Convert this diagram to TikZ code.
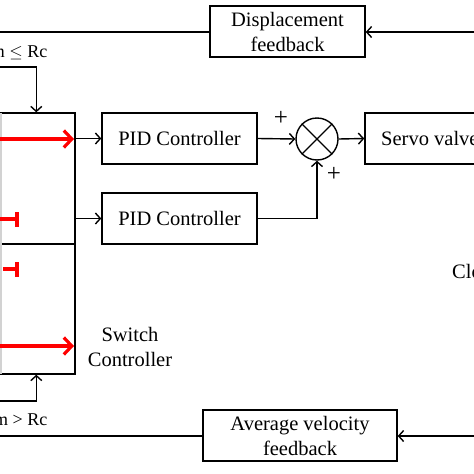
\documentclass[tikz,border=0pt]{standalone}
\usepackage{fontspec}
\setmainfont{Liberation Serif}
\usetikzlibrary{arrows.meta}
\newcommand\myfs{\fontsize{20.5}{25}\selectfont}
\newcommand\mylab{\fontsize{18}{22}\selectfont}
\newcommand\myplus{\fontsize{25}{25}\selectfont}
\tikzset{
  blk/.style={draw, line width=1.4pt, inner sep=0pt, align=center, font=\myfs},
  arr/.style={line width=1.4pt, -{Straight Barb[length=5pt,width=11pt]}},
  ln/.style={line width=1.4pt},
  redarr/.style={draw=red, line width=3.2pt, -{Straight Barb[length=8pt,width=17pt]}},
  redt/.style={draw=red, line width=3.2pt},
}
\begin{document}
\begin{tikzpicture}[x=1pt,y=-1pt]
\useasboundingbox (0,0) rectangle (474,474);
\clip (0,0) rectangle (474,474);
\fill[white] (0,0) rectangle (474,474);
% switch block
\node[blk, minimum width=85pt, minimum height=261pt] (sw) at (32.5,243.5) {};
\draw[ln] (sw.west |- 0,244) -- (sw.east |- 0,244);
\draw[gray!35, line width=2pt] (1,113) -- (1,374);
% red switches
\draw[redarr] (0,139) -- (74,139);
\draw[redt] (0,219) -- (17,219);
\draw[redt] (17,212) -- (17,226.5);
\draw[redt] (3,269) -- (17,269);
\draw[redt] (17,262) -- (17,276.5);
\draw[redarr] (0,346) -- (74,346);
% blocks
\node[blk, minimum width=155pt, minimum height=51pt] (pid1) at (179.5,138.5) {PID Controller};
\node[blk, minimum width=155pt, minimum height=51pt] (pid2) at (179.5,218.5) {PID Controller};
\node[draw, circle, line width=1.4pt, minimum size=42pt, inner sep=0pt] (sum) at (317,139) {};
\draw[ln] (sum.north west) -- (sum.south east);
\draw[ln] (sum.north east) -- (sum.south west);
\node[blk, minimum width=140pt, minimum height=51pt] (servo) at (435,138.5) {};
\node[font=\myfs, anchor=west, inner sep=0pt] (servot) at (381,138.5) {Servo valve};
\node[blk, minimum width=155pt, minimum height=51pt] (disp) at (287.5,31.5) {Displacement\\feedback};
\node[blk, minimum width=194pt, minimum height=51pt] (avg) at (300,435.5) {Average velocity\\feedback};
% labels
\node[font=\mylab, anchor=base east, inner sep=0pt] (l1) at (47.5,57) {Rm $\leq$ Rc};
\node[font=\mylab, anchor=base east, inner sep=0pt] (l2) at (47.5,425) {Rm > Rc};
\node[font=\myfs, align=center] (swt) at (130,347) {Switch\\Controller};
\node[font=\myfs, anchor=base west, inner sep=0pt] (cl) at (452,278) {Closed loop};
\node[font=\myplus, inner sep=0pt] (p1) at (281,118) {+};
\node[font=\myplus, inner sep=0pt] (p2) at (334,174) {+};
% coordinates
\coordinate (tin) at (0,67);
\coordinate (bin) at (0,401);
\coordinate (tfr) at (474,32);
\coordinate (tfl) at (0,32);
\coordinate (bfr) at (474,436);
\coordinate (bfl) at (0,436);
% connectors
\draw[arr] (tfr) -- (disp.east |- tfr);
\draw[ln] (disp.west |- tfl) -- (tfl);
\draw[arr] (bfr) -- (avg.east |- bfr);
\draw[ln] (avg.west |- bfl) -- (bfl);
\draw[arr] (tin) -| ([xshift=47pt]sw.north west);
\draw[arr] (bin) -| ([xshift=47pt]sw.south west);
\draw[arr] (sw.east |- pid1.west) -- (pid1.west);
\draw[arr] (sw.east |- pid2.west) -- (pid2.west);
\draw[arr] (pid1.east) -- (sum.west);
\draw[arr] (pid2.east) -| (sum.south);
\draw[arr] (sum.east) -- (servo.west);
\end{tikzpicture}
\end{document}
